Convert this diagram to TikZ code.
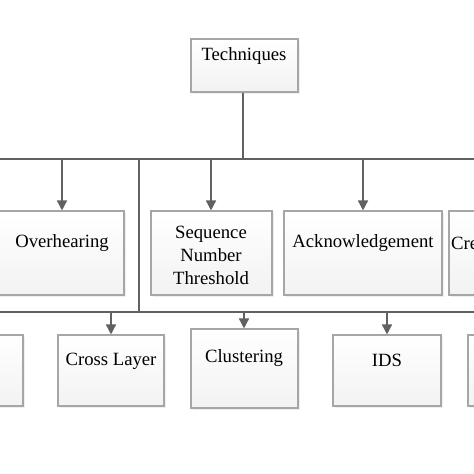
\documentclass[tikz,border=0pt]{standalone}
\usepackage{fontspec}
\setmainfont{Liberation Serif}
\usetikzlibrary{arrows.meta,shadows}
\begin{document}
\begin{tikzpicture}[x=1pt,y=-1pt,
  boxs/.style={draw=black!35,line width=1.1pt,top color=white,bottom color=black!5,
    drop shadow={opacity=0.12,shadow xshift=1.5pt,shadow yshift=-1.5pt},inner sep=0pt},
  lbl/.style={font=\fontsize{18.7}{23}\selectfont,align=center,inner sep=0pt},
  wire/.style={draw=black!62,line width=1.5pt},
  arr/.style={wire,-{Triangle[width=10pt,length=10pt]}}]
\useasboundingbox (0,0) rectangle (474,474);
\clip (0,0) rectangle (474,474);
\fill[white] (0,0) rectangle (474,474);
% boxes: corners
\newcommand{\mybox}[5]{\node[boxs,minimum width=#4-#2,minimum height=#5-#3] (#1) at ({(#2+#4)/2},{(#3+#5)/2}) {};}
\mybox{tech}{191}{39}{298}{92}
\mybox{ov}{-2}{211}{124}{295}
\mybox{seq}{151}{211}{272}{295}
\mybox{ack}{284}{211}{442}{295}
\mybox{cr}{449}{211}{560}{295}
\mybox{b0}{-80}{335}{23}{406}
\mybox{cl}{58}{335}{164}{406}
\mybox{clu}{191}{329}{298}{408}
\mybox{ids}{333}{335}{441}{406}
\mybox{b5}{468}{335}{570}{406}
% texts
\node[lbl] (ttech) at (244,56) {Techniques};
\node[lbl] (tov) at (62,243) {Overhearing};
\node[lbl] (tseq) at (211,255) {Sequence\\Number\\Threshold};
\node[lbl] (tack) at (363,243) {Acknowledgement};
\node[lbl,anchor=west] (tcr) at (451,243) {Cre};
\node[lbl] (tcl) at (111,361) {Cross Layer};
\node[lbl] (tclu) at (244,358) {Clustering};
\node[lbl] (tids) at (387,360) {IDS};
% buses
\coordinate (b1l) at (0,159);
\coordinate (b1r) at (474,159);
\coordinate (b2l) at (0,312);
\coordinate (b2r) at (474,312);
\coordinate (v1) at (139,159);
\coordinate (v2) at (139,312);
\coordinate (t1) at (243,159);
\draw[wire] (b1l) -- (b1r);
\draw[wire] (b2l) -- (b2r);
\draw[wire] (v1) -- (v2);
\draw[wire] (tech.south -| t1) -- (t1);
\draw[arr] (tov |- b1l) -- (tov |- ov.north);
\draw[arr] (tseq |- b1l) -- (tseq |- seq.north);
\draw[arr] (ack.north |- b1l) -- (ack.north);
\draw[arr] (cl.north |- b2l) -- (cl.north);
\draw[arr] (tclu |- b2l) -- (tclu |- clu.north);
\draw[arr] (tids |- b2l) -- (tids |- ids.north);
\end{tikzpicture}
\end{document}
